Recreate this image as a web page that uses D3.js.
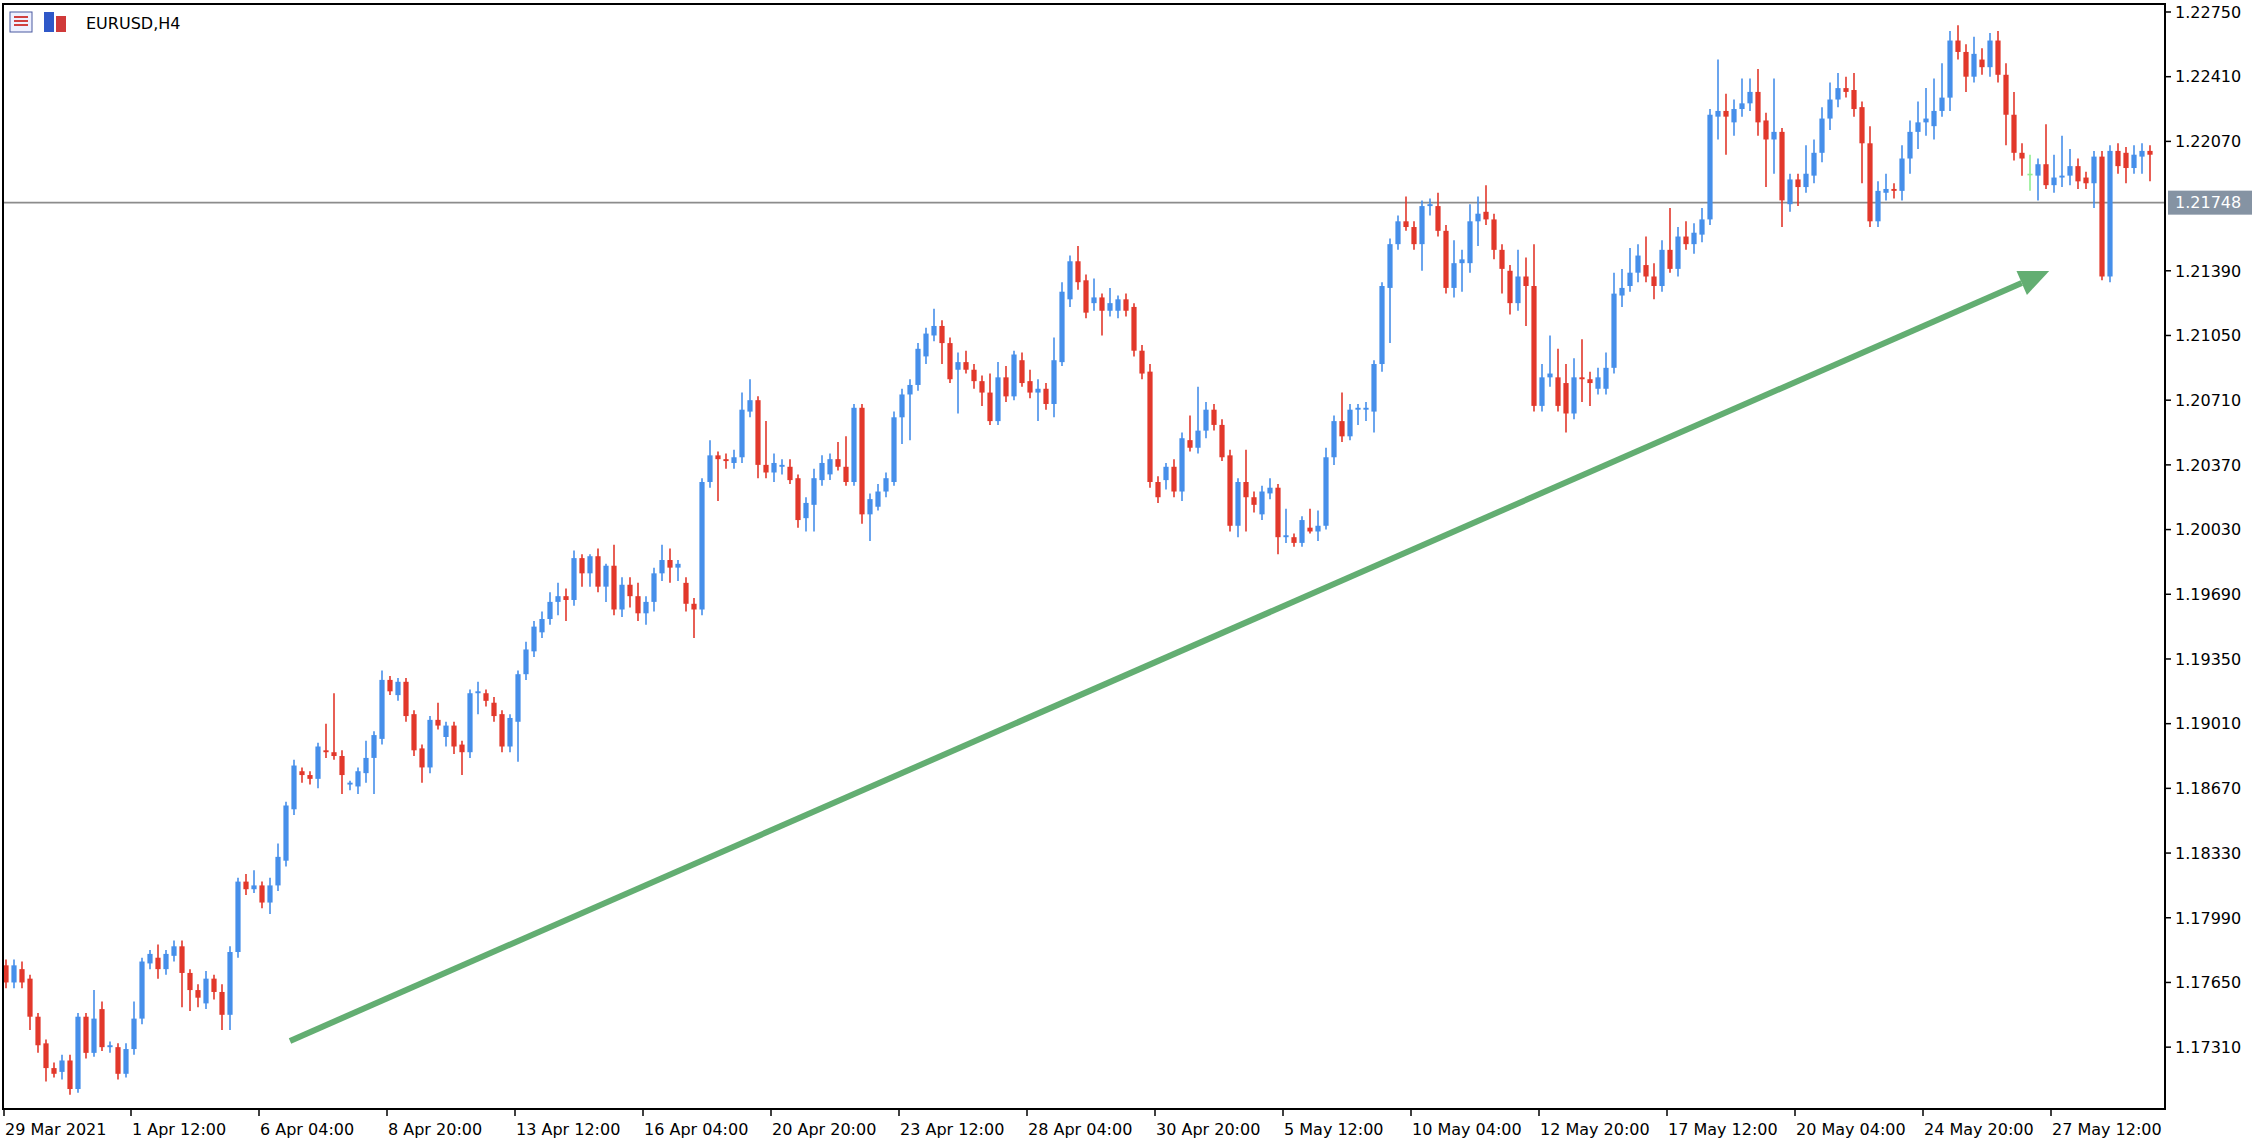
<!DOCTYPE html>
<html>
<head>
<meta charset="utf-8">
<script src="https://cdn.jsdelivr.net/npm/d3@7"></script>
<style>
  body { margin: 0; background: #fff; }
  svg { display: block; }
  text { font-family: "DejaVu Sans", Tahoma, sans-serif; }
</style>
</head>
<body>
<svg id="chart"></svg>
<script>
const symbol = "EURUSD,H4";

const opens = [
  1.1774,1.1765,1.1772,1.1767,1.1747,1.1733,1.1720,1.1718,1.1724,1.1709,
  1.1747,1.1728,1.1751,1.1731,1.1731,1.1717,1.1730,1.1746,1.1775,1.1778,
  1.1772,1.1779,1.1784,1.1770,1.1761,1.1754,1.1767,1.1760,1.1748,1.1781,
  1.1818,1.1814,1.1816,1.1807,1.1816,1.1829,1.1856,1.1876,1.1874,1.1872,
  1.1887,1.1886,1.1884,1.1869,1.1868,1.1875,1.1883,1.1893,1.1924,1.1916,
  1.1923,1.1906,1.1888,1.1878,1.1903,1.1894,1.1900,1.1890,1.1886,1.1917,
  1.1917,1.1912,1.1906,1.1889,1.1902,1.1927,1.1939,1.1949,1.1956,1.1965,
  1.1968,1.1966,1.1988,1.1980,1.1989,1.1973,1.1984,1.1961,1.1974,1.1968,
  1.1959,1.1965,1.1980,1.1987,1.1983,1.1975,1.1964,1.1961,1.2028,1.2042,
  1.2040,1.2038,1.2041,1.2065,1.2071,1.2037,1.2033,1.2036,1.2036,1.2030,
  1.2009,1.2016,1.2029,1.2032,1.2040,1.2036,1.2028,1.2067,1.2011,1.2015,
  1.2023,1.2028,1.2062,1.2074,1.2079,1.2094,1.2105,1.2110,1.2101,1.2087,
  1.2091,1.2087,1.2081,1.2075,1.2060,1.2083,1.2073,1.2092,1.2081,1.2075,
  1.2077,1.2069,1.2091,1.2124,1.2144,1.2134,1.2122,1.2125,1.2118,1.2118,
  1.2124,1.2120,1.2097,1.2086,1.2028,1.2029,1.2036,1.2023,1.2050,1.2046,
  1.2055,1.2066,1.2058,1.2042,1.2005,1.2028,1.2020,1.2011,1.2022,1.2025,
  1.1999,1.1999,1.1996,1.2004,1.2002,1.2005,1.2041,1.2060,1.2052,1.2066,
  1.2066,1.2065,1.2090,1.2130,1.2153,1.2165,1.2162,1.2153,1.2173,1.2173,
  1.2160,1.2130,1.2143,1.2143,1.2165,1.2170,1.2166,1.2150,1.2139,1.2122,
  1.2136,1.2131,1.2068,1.2083,1.2083,1.2080,1.2064,1.2083,1.2082,1.2077,
  1.2077,1.2088,1.2126,1.2131,1.2138,1.2142,1.2136,1.2131,1.2150,1.2140,
  1.2157,1.2153,1.2158,1.2166,1.2220,1.2223,1.2217,1.2224,1.2227,1.2233,
  1.2218,1.2208,1.2212,1.2174,1.2187,1.2183,1.2189,1.2201,1.2219,1.2229,
  1.2235,1.2234,1.2225,1.2206,1.2165,1.2180,1.2182,1.2181,1.2198,1.2212,
  1.2217,1.2215,1.2223,1.2230,1.2260,1.2254,1.2241,1.2250,1.2246,1.2260,
  1.2242,1.2221,1.2201,1.2190,1.2189,1.2195,1.2184,1.2188,1.2189,1.2194,
  1.2188,1.2185,1.2199,1.2136,1.2202,1.2201,1.2193,1.2199,1.2202
];

const highs = [
  1.1777,1.1777,1.1776,1.1769,1.1749,1.1735,1.1723,1.1727,1.1727,1.1749,
  1.1749,1.1761,1.1755,1.1734,1.1733,1.1733,1.1755,1.1778,1.1782,1.1785,
  1.1782,1.1787,1.1787,1.1772,1.1764,1.1771,1.1769,1.1764,1.1784,1.1820,
  1.1822,1.1824,1.1818,1.1820,1.1838,1.1860,1.1882,1.1878,1.1876,1.1891,
  1.1901,1.1917,1.1887,1.1871,1.1878,1.1892,1.1897,1.1929,1.1926,1.1925,
  1.1925,1.1908,1.1890,1.1905,1.1912,1.1902,1.1902,1.1892,1.1919,1.1923,
  1.1919,1.1915,1.1908,1.1906,1.1929,1.1944,1.1955,1.1960,1.1970,1.1975,
  1.1972,1.1992,1.1990,1.1990,1.1993,1.1985,1.1995,1.1978,1.1978,1.1975,
  1.1968,1.1983,1.1995,1.1993,1.1987,1.1978,1.1967,1.2030,1.2050,1.2044,
  1.2043,1.2045,1.2075,1.2082,1.2073,1.2060,1.2043,1.2040,1.2040,1.2032,
  1.2020,1.2035,1.2042,1.2043,1.2049,1.2052,1.2069,1.2069,1.2022,1.2027,
  1.2033,1.2065,1.2077,1.2082,1.2101,1.2109,1.2119,1.2113,1.2104,1.2096,
  1.2097,1.2090,1.2084,1.2085,1.2091,1.2089,1.2097,1.2096,1.2087,1.2082,
  1.2080,1.2104,1.2133,1.2147,1.2152,1.2137,1.2135,1.2127,1.2130,1.2126,
  1.2127,1.2122,1.2100,1.2090,1.2031,1.2038,1.2040,1.2054,1.2063,1.2078,
  1.2070,1.2069,1.2061,1.2045,1.2030,1.2045,1.2023,1.2026,1.2030,1.2027,
  1.2014,1.2001,1.2010,1.2014,1.2013,1.2046,1.2063,1.2075,1.2069,1.2069,
  1.2070,1.2092,1.2133,1.2156,1.2168,1.2178,1.2165,1.2176,1.2177,1.2180,
  1.2163,1.2155,1.2150,1.2174,1.2178,1.2184,1.2169,1.2153,1.2142,1.2150,
  1.2146,1.2153,1.2090,1.2105,1.2098,1.2090,1.2093,1.2103,1.2086,1.2088,
  1.2096,1.2138,1.2140,1.2151,1.2153,1.2157,1.2143,1.2155,1.2172,1.2162,
  1.2165,1.2164,1.2172,1.2224,1.2250,1.2232,1.2229,1.2240,1.2240,1.2245,
  1.2222,1.2240,1.2214,1.2190,1.2190,1.2205,1.2208,1.2225,1.2238,1.2243,
  1.2241,1.2243,1.2228,1.2215,1.2186,1.2190,1.2185,1.2205,1.2218,1.2228,
  1.2235,1.2240,1.2248,1.2265,1.2268,1.2258,1.2262,1.2256,1.2264,1.2265,
  1.2248,1.2233,1.2206,1.2200,1.2198,1.2216,1.2200,1.2210,1.2203,1.2198,
  1.2191,1.2202,1.2202,1.2205,1.2206,1.2204,1.2205,1.2206,1.2205
];

const lows = [
  1.1762,1.1762,1.1762,1.1740,1.1728,1.1713,1.1715,1.1714,1.1706,1.1707,
  1.1725,1.1726,1.1729,1.1728,1.1714,1.1715,1.1727,1.1743,1.1772,1.1767,
  1.1769,1.1776,1.1752,1.1750,1.1752,1.1751,1.1756,1.1740,1.1740,1.1778,
  1.1811,1.1812,1.1804,1.1801,1.1813,1.1826,1.1853,1.1870,1.1869,1.1867,
  1.1883,1.1882,1.1864,1.1866,1.1864,1.1870,1.1864,1.1890,1.1916,1.1913,
  1.1902,1.1884,1.1870,1.1875,1.1898,1.1889,1.1885,1.1874,1.1883,1.1906,
  1.1910,1.1902,1.1886,1.1886,1.1881,1.1924,1.1936,1.1946,1.1953,1.1958,
  1.1955,1.1963,1.1973,1.1973,1.1970,1.1965,1.1958,1.1957,1.1962,1.1955,
  1.1953,1.1960,1.1976,1.1975,1.1976,1.1960,1.1946,1.1958,1.2025,1.2018,
  1.2035,1.2035,1.2038,1.2062,1.2030,1.2030,1.2028,1.2032,1.2027,1.2004,
  1.2002,1.2002,1.2026,1.2029,1.2034,1.2026,1.2026,1.2006,1.1997,1.2013,
  1.2020,1.2026,1.2048,1.2050,1.2076,1.2090,1.2102,1.2090,1.2080,1.2064,
  1.2085,1.2077,1.2068,1.2058,1.2058,1.2070,1.2071,1.2078,1.2072,1.2060,
  1.2066,1.2062,1.2089,1.2120,1.2129,1.2114,1.2118,1.2105,1.2115,1.2114,
  1.2115,1.2094,1.2082,1.2025,1.2017,1.2024,1.2020,1.2018,1.2044,1.2043,
  1.2051,1.2055,1.2039,1.2002,1.1999,1.2002,1.2012,1.2008,1.2019,1.1990,
  1.1996,1.1994,1.1994,1.2001,1.1997,1.2003,1.2037,1.2049,1.2050,1.2058,
  1.2060,1.2054,1.2086,1.2101,1.2150,1.2160,1.2150,1.2139,1.2168,1.2157,
  1.2127,1.2125,1.2128,1.2138,1.2152,1.2163,1.2145,1.2127,1.2116,1.2118,
  1.2110,1.2065,1.2065,1.2078,1.2065,1.2054,1.2061,1.2070,1.2068,1.2074,
  1.2074,1.2085,1.2120,1.2128,1.2133,1.2133,1.2124,1.2128,1.2138,1.2136,
  1.2150,1.2148,1.2154,1.2163,1.2208,1.2200,1.2210,1.2220,1.2223,1.2210,
  1.2183,1.2190,1.2162,1.2170,1.2173,1.2180,1.2185,1.2196,1.2213,1.2225,
  1.2230,1.2220,1.2185,1.2162,1.2162,1.2176,1.2177,1.2176,1.2190,1.2203,
  1.2210,1.2208,1.2220,1.2223,1.2250,1.2233,1.2238,1.2242,1.2241,1.2238,
  1.2205,1.2197,1.2189,1.2181,1.2176,1.2182,1.2180,1.2183,1.2184,1.2182,
  1.2182,1.2172,1.2134,1.2133,1.2190,1.2185,1.2190,1.2190,1.2186
];

const closes = [
  1.1765,1.1774,1.1765,1.1747,1.1732,1.1720,1.1717,1.1724,1.1709,1.1747,
  1.1728,1.1746,1.1731,1.1732,1.1717,1.1730,1.1746,1.1776,1.1780,1.1772,
  1.1780,1.1784,1.1770,1.1761,1.1757,1.1767,1.1760,1.1748,1.1781,1.1818,
  1.1814,1.1816,1.1807,1.1816,1.1831,1.1858,1.1879,1.1874,1.1872,1.1889,
  1.1886,1.1884,1.1874,1.1870,1.1876,1.1883,1.1895,1.1924,1.1918,1.1923,
  1.1905,1.1887,1.1878,1.1903,1.1900,1.1900,1.1889,1.1886,1.1917,1.1918,
  1.1913,1.1905,1.1889,1.1904,1.1927,1.1940,1.1952,1.1956,1.1965,1.1968,
  1.1966,1.1988,1.1980,1.1989,1.1973,1.1984,1.1961,1.1974,1.1968,1.1959,
  1.1965,1.1980,1.1987,1.1983,1.1985,1.1964,1.1961,1.2028,1.2042,1.2040,
  1.2039,1.2041,1.2066,1.2071,1.2037,1.2033,1.2038,1.2037,1.2029,1.2008,
  1.2017,1.2030,1.2038,1.2040,1.2036,1.2028,1.2067,1.2011,1.2019,1.2023,
  1.2030,1.2062,1.2074,1.2079,1.2098,1.2106,1.2110,1.2101,1.2082,1.2091,
  1.2087,1.2081,1.2075,1.2060,1.2083,1.2073,1.2095,1.2080,1.2075,1.2077,
  1.2069,1.2092,1.2128,1.2144,1.2133,1.2117,1.2125,1.2118,1.2122,1.2124,
  1.2118,1.2097,1.2085,1.2028,1.2020,1.2036,1.2023,1.2051,1.2046,1.2055,
  1.2066,1.2058,1.2041,1.2005,1.2028,1.2020,1.2016,1.2023,1.2025,1.1999,
  1.2000,1.1996,1.2008,1.2002,1.2005,1.2041,1.2060,1.2052,1.2066,1.2067,
  1.2067,1.2090,1.2131,1.2153,1.2165,1.2162,1.2153,1.2173,1.2174,1.2160,
  1.2130,1.2143,1.2145,1.2165,1.2169,1.2166,1.2150,1.2140,1.2122,1.2136,
  1.2131,1.2068,1.2083,1.2085,1.2068,1.2064,1.2083,1.2082,1.2080,1.2083,
  1.2088,1.2127,1.2130,1.2138,1.2147,1.2136,1.2131,1.2150,1.2140,1.2157,
  1.2153,1.2159,1.2166,1.2221,1.2223,1.2220,1.2224,1.2227,1.2233,1.2217,
  1.2208,1.2212,1.2176,1.2187,1.2183,1.2190,1.2201,1.2219,1.2229,1.2235,
  1.2233,1.2224,1.2206,1.2165,1.2181,1.2182,1.2181,1.2198,1.2212,1.2217,
  1.2219,1.2223,1.2230,1.2260,1.2254,1.2241,1.2253,1.2246,1.2260,1.2242,
  1.2221,1.2201,1.2198,1.2190,1.2195,1.2184,1.2188,1.2189,1.2194,1.2186,
  1.2185,1.2199,1.2136,1.2202,1.2194,1.2193,1.2200,1.2202,1.2200
];

// date labels every 16 bars
const timeLabels = ["29 Mar 2021","1 Apr 12:00","6 Apr 04:00","8 Apr 20:00","13 Apr 12:00",
  "16 Apr 04:00","20 Apr 20:00","23 Apr 12:00","28 Apr 04:00","30 Apr 20:00","5 May 12:00",
  "10 May 04:00","12 May 20:00","17 May 12:00","20 May 04:00","24 May 20:00","27 May 12:00"];
const priceTicks = [1.22750,1.22410,1.22070,1.21390,1.21050,1.20710,1.20370,1.20030,
  1.19690,1.19350,1.19010,1.18670,1.18330,1.17990,1.17650,1.17310];
const currentPrice = 1.21748;
const arrowBars = [35.5, 255.4];
const arrowPrices = [1.17343, 1.21389];

const W = 2256, H = 1144;
const area = { left: 3, right: 2165, top: 4, bottom: 1109 };
const UP = "#468fea", DOWN = "#e2382b", DOJI = "#90ee90";

const svg = d3.select("#chart").attr("width", W).attr("height", H);

const x = d3.scaleLinear().domain([0, closes.length - 1]).range([6, 2150]);
const y = d3.scaleLinear().domain([1.16985, 1.22792]).range([area.bottom, area.top]);

// current price line
svg.append("line")
    .attr("x1", area.left).attr("x2", area.right)
    .attr("y1", y(currentPrice)).attr("y2", y(currentPrice))
    .attr("stroke", "#8c8c8c").attr("stroke-width", 1.6);

// candles
const bars = d3.range(closes.length);
const g = svg.append("g");
const colorOf = i => closes[i] > opens[i] ? UP : (closes[i] < opens[i] ? DOWN : DOJI);

g.selectAll(".wick").data(bars).enter().append("line")
    .attr("x1", i => x(i)).attr("x2", i => x(i))
    .attr("y1", i => y(highs[i])).attr("y2", i => y(lows[i]))
    .attr("stroke", colorOf).attr("stroke-width", 1.6);

g.selectAll(".body").data(bars).enter().append("rect")
    .attr("x", i => x(i) - 2.6)
    .attr("width", 5.2)
    .attr("y", i => y(Math.max(opens[i], closes[i])))
    .attr("height", i => Math.max(1.6, Math.abs(y(opens[i]) - y(closes[i]))))
    .attr("fill", colorOf);

// trend arrow
const ax1 = x(arrowBars[0]), ay1 = y(arrowPrices[0]);
const ax2 = x(arrowBars[1]), ay2 = y(arrowPrices[1]);
const ang = Math.atan2(ay2 - ay1, ax2 - ax1);
const headLen = 30, headW = 13;
const bx = ax2 - headLen * Math.cos(ang), by = ay2 - headLen * Math.sin(ang);
svg.append("line")
    .attr("x1", ax1).attr("y1", ay1).attr("x2", bx).attr("y2", by)
    .attr("stroke", "#63ae72").attr("stroke-width", 6);
svg.append("path")
    .attr("d", `M${ax2},${ay2}L${bx + headW * Math.sin(ang)},${by - headW * Math.cos(ang)}L${bx - headW * Math.sin(ang)},${by + headW * Math.cos(ang)}Z`)
    .attr("fill", "#63ae72");

// frame
svg.append("rect")
    .attr("x", area.left).attr("y", area.top)
    .attr("width", area.right - area.left).attr("height", area.bottom - area.top)
    .attr("fill", "none").attr("stroke", "#000").attr("stroke-width", 2);

// price axis
const py = svg.append("g");
priceTicks.forEach(p => {
    py.append("line").attr("x1", area.right).attr("x2", area.right + 6)
        .attr("y1", y(p)).attr("y2", y(p)).attr("stroke", "#000").attr("stroke-width", 1.5);
    py.append("text").attr("x", area.right + 10).attr("y", y(p)).attr("dy", "0.36em")
        .attr("font-size", 16).attr("fill", "#000").text(p.toFixed(5));
});
py.append("rect").attr("x", area.right + 3).attr("y", y(currentPrice) - 12)
    .attr("width", 84).attr("height", 24).attr("fill", "#8593a3");
py.append("text").attr("x", area.right + 10).attr("y", y(currentPrice)).attr("dy", "0.36em")
    .attr("font-size", 16).attr("fill", "#fff").text(currentPrice.toFixed(5));

// time axis
timeLabels.forEach((t, k) => {
    const tx = k === 0 ? area.left + 1 : x(k * 16) - 3;
    svg.append("line").attr("x1", tx).attr("x2", tx)
        .attr("y1", area.bottom).attr("y2", area.bottom + 7).attr("stroke", "#000").attr("stroke-width", 1.5);
    svg.append("text").attr("x", tx + 1).attr("y", area.bottom + 26)
        .attr("font-size", 16).attr("fill", "#000").text(t);
});

// title with icons
const ic = svg.append("g").attr("transform", "translate(10,12)");
ic.append("rect").attr("width", 22).attr("height", 20).attr("fill", "#eef0ff").attr("stroke", "#4a5aa0");
[5, 9, 13].forEach(v => ic.append("line").attr("x1", 4).attr("x2", 18).attr("y1", v).attr("y2", v).attr("stroke", "#d04040").attr("stroke-width", 2));
const ic2 = svg.append("g").attr("transform", "translate(44,12)");
ic2.append("rect").attr("width", 10).attr("height", 20).attr("fill", "#2f58c8");
ic2.append("rect").attr("x", 12).attr("y", 4).attr("width", 10).attr("height", 16).attr("fill", "#d03a3a");
svg.append("text").attr("x", 86).attr("y", 29).attr("font-size", 16).attr("fill", "#000").text(symbol);
</script>
</body>
</html>
